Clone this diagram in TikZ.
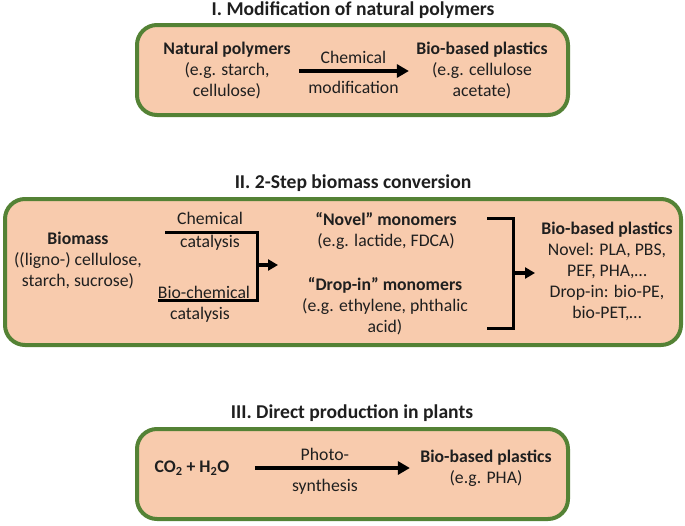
\documentclass[tikz,border=0pt]{standalone}
\usepackage{fontspec}
\setmainfont{Carlito}
\usetikzlibrary{arrows.meta}
\definecolor{panelfill}{HTML}{F8CBAD}
\definecolor{panelline}{HTML}{548235}
\definecolor{inktext}{HTML}{1F1F1F}

\begin{document}
\begin{tikzpicture}[x=1pt, y=-1pt, font=\fontsize{17.7}{21}\selectfont, text=inktext,
    panel/.style={draw=panelline, line width=4pt, fill=panelfill, rounded corners=20pt, inner sep=0pt},
    heading/.style={font=\fontsize{19.6}{23}\selectfont\bfseries},
    txtblock/.style={align=center},
    arr/.style={line width=3.2pt, -{Triangle[length=12pt, width=13pt]}},
    brk/.style={line width=3pt}]
    \useasboundingbox (0,0) rectangle (685,525);

    % I. modification of natural polymers
    \node[heading] (headA) at (353,10) {I. Modification of natural polymers};
    \node[panel, minimum width=431pt, minimum height=90pt] (panelA) at (352.5,70) {};
    \node[txtblock] (natpoly) at (227,71) {{\bfseries Natural polymers}\\(e.g. starch,\\cellulose)};
    \node[txtblock] (plastA) at (482,71) {{\bfseries Bio-based plastics}\\(e.g. cellulose\\acetate)};
    \draw[arr, shorten <=5pt, shorten >=4pt] (natpoly.east) -- node[above=2pt] {Chemical} node[below=5pt] {modification} (plastA.west);

    % II. 2-step biomass conversion
    \node[heading] (headB) at (353,183) {II. 2-Step biomass conversion};
    \node[panel, minimum width=676pt, minimum height=146pt] (panelB) at (343,272) {};
    \node[txtblock] (biomass) at (78,261) {{\bfseries Biomass}\\((ligno-) cellulose,\\starch, sucrose)};
    \node (chemA) at (210,218) {Chemical};
    \node (catA) at (210,243) {catalysis};
    \node (biochem) at (204,292) {Bio-chemical};
    \node (catB) at (200,315) {catalysis};
    \coordinate (lbtop) at (165,232);
    \coordinate (lbbot) at (158,300);
    \coordinate (lbmid) at (257,265);
    \coordinate (lbtip) at (278,265);
    \draw[brk] (lbtop) -| (lbmid) |- (lbbot);
    \draw[arr, -{Triangle[length=10pt, width=11pt]}] (lbmid) -- (lbtip);
    \node[txtblock] (novel) at (386,231) {{\bfseries “Novel” monomers}\\(e.g. lactide, FDCA)};
    \node[txtblock] (dropin) at (385,306) {{\bfseries “Drop-in” monomers}\\(e.g. ethylene, phthalic\\acid)};
    \coordinate (rbtop) at (487,218);
    \coordinate (rbbot) at (487,328);
    \coordinate (rbmid) at (513,273);
    \coordinate (rbtip) at (535,273);
    \draw[brk] (rbtop) -| (rbmid) |- (rbbot);
    \draw[arr, -{Triangle[length=10pt, width=11pt]}] (rbmid) -- (rbtip);
    \node[txtblock] (plastB) at (607,271) {{\bfseries Bio-based plastics}\\Novel: PLA, PBS,\\PEF, PHA,…\\Drop-in: bio-PE,\\bio-PET,…};

    % III. direct production in plants
    \node[heading] (headC) at (352,413) {III. Direct production in plants};
    \node[panel, minimum width=431pt, minimum height=90pt] (panelC) at (352.5,474) {};
    \node (co2) at (192,468) {\bfseries CO\textsubscript{2} + H\textsubscript{2}O};
    \node[txtblock] (plastC) at (486,468) {{\bfseries Bio-based plastics}\\(e.g. PHA)};
    \draw[arr, shorten <=22pt, shorten >=7pt] (co2.east) -- node[above=2pt] {Photo-} node[below=6pt] {synthesis} (plastC.west);
\end{tikzpicture}
\end{document}
